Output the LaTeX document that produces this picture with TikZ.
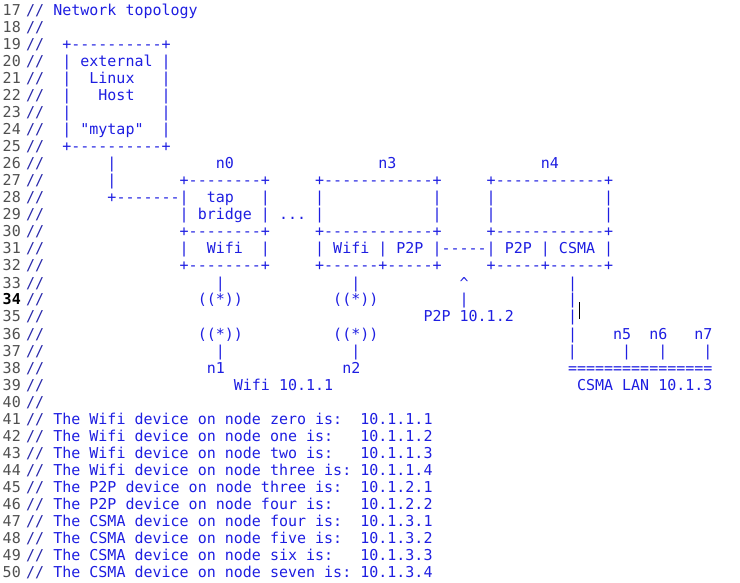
\documentclass[tikz,border=0pt]{standalone}
\usepackage{fontspec}
\setmonofont{DejaVu Sans Mono}
\definecolor{numc}{RGB}{80, 80, 80}
\definecolor{slash}{RGB}{40, 40, 170}
\definecolor{codec}{RGB}{30, 30, 225}
\newlength\cw
\setlength\cw{9.03pt}
\newcommand\sk[1]{\hspace*{#1\cw}}
\newcommand\cm{\textcolor{slash}{//}}

\begin{document}
\begin{tikzpicture}[x=1pt, y=-1pt]
    \tikzstyle{lnum} = [anchor=base east, inner sep=0, text=numc,
    font=\ttfamily\fontsize{15}{17}\selectfont];
    \tikzstyle{code} = [anchor=base west, inner sep=0, text=codec,
    font=\ttfamily\fontsize{15}{17}\selectfont];
    \newcommand\cl[2]{%
      \node [lnum] (n#1) at (21, {16+17*(#1-17)}) {#1};
      \node [code] (c#1) at (26, {16+17*(#1-17)}) {\cm#2};}
    \useasboundingbox (0,0) rectangle (740,583);
    % Title
    \cl{17}{ Network topology}
    \cl{18}{}
    % Host box
    \cl{19}{\sk{2}+----------+}
    \cl{20}{\sk{2}|\sk{1}external\sk{1}|}
    \cl{21}{\sk{2}|\sk{2}Linux\sk{3}|}
    \cl{22}{\sk{2}|\sk{3}Host\sk{3}|}
    \cl{23}{\sk{2}|\sk{10}|}
    \cl{24}{\sk{2}|\sk{1}"mytap"\sk{2}|}
    \cl{25}{\sk{2}+----------+}
    % Nodes n0, n3, n4
    \cl{26}{\sk{7}|\sk{11}n0\sk{16}n3\sk{16}n4}
    \cl{27}{\sk{7}|\sk{7}+--------+\sk{5}+------------+\sk{5}+------------+}
    \cl{28}{\sk{7}+-------|\sk{2}tap\sk{3}|\sk{5}|\sk{12}|\sk{5}|\sk{12}|}
    \cl{29}{\sk{15}|\sk{1}bridge\sk{1}|\sk{1}...\sk{1}|\sk{12}|\sk{5}|\sk{12}|}
    \cl{30}{\sk{15}+--------+\sk{5}+------------+\sk{5}+------------+}
    \cl{31}{\sk{15}|\sk{2}Wifi\sk{2}|\sk{5}|\sk{1}Wifi\sk{1}|\sk{1}P2P\sk{1}|-----|\sk{1}P2P\sk{1}|\sk{1}CSMA\sk{1}|}
    \cl{32}{\sk{15}+--------+\sk{5}+------+-----+\sk{5}+-----+------+}
    % Links
    \cl{33}{\sk{19}|\sk{14}|\sk{11}\^{}\sk{11}|}
    \node [lnum, font=\ttfamily\bfseries\fontsize{15}{17}\selectfont, text=black] (n34) at (21, 305) {34};
    \node [code] (c34) at (26, 305) {\cm\sk{17}((*))\sk{10}((*))\sk{9}|\sk{11}|};
    \cl{35}{\sk{42}P2P 10.1.2\sk{6}|}
    \cl{36}{\sk{17}((*))\sk{10}((*))\sk{21}|\sk{4}n5\sk{2}n6\sk{3}n7}
    \cl{37}{\sk{19}|\sk{14}|\sk{23}|\sk{5}|\sk{3}|\sk{4}|}
    \cl{38}{\sk{18}n1\sk{13}n2\sk{23}================}
    \cl{39}{\sk{21}Wifi 10.1.1\sk{27}CSMA LAN 10.1.3}
    \cl{40}{}
    % Addresses
    \cl{41}{ The Wifi device on node zero is:\sk{2}10.1.1.1}
    \cl{42}{ The Wifi device on node one is:\sk{3}10.1.1.2}
    \cl{43}{ The Wifi device on node two is:\sk{3}10.1.1.3}
    \cl{44}{ The Wifi device on node three is:\sk{1}10.1.1.4}
    \cl{45}{ The P2P device on node three is:\sk{2}10.1.2.1}
    \cl{46}{ The P2P device on node four is:\sk{3}10.1.2.2}
    \cl{47}{ The CSMA device on node four is:\sk{2}10.1.3.1}
    \cl{48}{ The CSMA device on node five is:\sk{2}10.1.3.2}
    \cl{49}{ The CSMA device on node six is:\sk{3}10.1.3.3}
    \cl{50}{ The CSMA device on node seven is:\sk{1}10.1.3.4}
    % Cursor
    \draw [black, line width=0.9pt] ([xshift=61.3\cw, yshift=-14pt]c34.base west) -- ([xshift=61.3\cw, yshift=3pt]c34.base west);
\end{tikzpicture}
\end{document}
